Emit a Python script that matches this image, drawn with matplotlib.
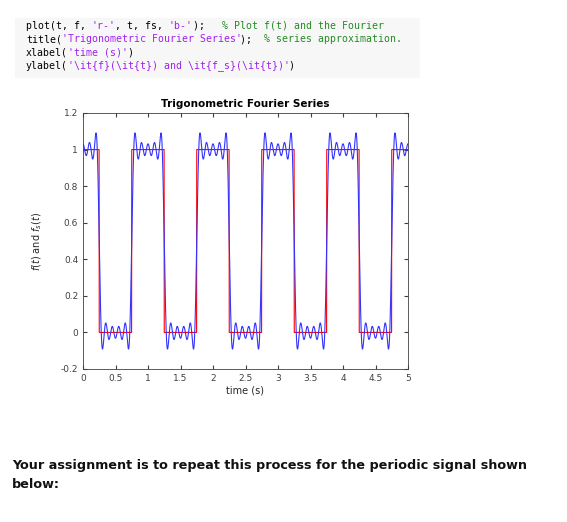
import numpy as np
import matplotlib.pyplot as plt
from matplotlib.patches import Rectangle

# square wave: high between these edges (period 1 s)
t_edges = [0, 0.25, 0.75, 1.25, 1.75, 2.25, 2.75, 3.25, 3.75, 4.25, 4.75, 5]
f_levels = [1, 0, 1, 0, 1, 0, 1, 0, 1, 0, 1]

# Fourier series coefficients: dc term and cosine harmonics (odd n)
a0 = 0.5
harmonics = [1, 3, 5, 7, 9]
an = [0.6366, -0.2122, 0.1273, -0.0909, 0.0707]

fig = plt.figure(figsize=(5.67, 5.22), dpi=100)
W, H = 567, 522

# code block
fig.patches.append(Rectangle((15 / W, 1 - 78 / H), 405 / W, 60 / H, transform=fig.transFigure,
                             facecolor='#f7f7f7', edgecolor='none'))
mono = 'DejaVu Sans Mono'
lines = [
    [("plot(t, f, ", 'k'), ("'r-'", '#a020f0'), (", t, fs, ", 'k'), ("'b-'", '#a020f0'), (");   ", 'k'),
     ("% Plot f(t) and the Fourier", '#228b22')],
    [("title(", 'k'), ("'Trigonometric Fourier Series'", '#a020f0'), (");  ", 'k'),
     ("% series approximation.", '#228b22')],
    [("xlabel(", 'k'), ("'time (s)'", '#a020f0'), (")", 'k')],
    [("ylabel(", 'k'), ("'\\it{f}(\\it{t}) and \\it{f_s}(\\it{t})'", '#a020f0'), (")", 'k')],
]
cw = 5.95  # px per char
for i, parts in enumerate(lines):
    x = 26
    y = 26 + i * 13.3
    for s, c in parts:
        fig.text(x / W, 1 - y / H, s, fontsize=7.15, family=mono, color=c, va='center')
        x += len(s) * cw

ax = fig.add_axes([83 / W, 1 - 369 / H, 325 / W, 256 / H])
t = np.linspace(0, 5, 2001)
f = np.array(f_levels)[np.clip(np.searchsorted(t_edges, t, side='right') - 1, 0, len(f_levels) - 1)]
fs = a0 + sum(a * np.cos(2 * np.pi * n * t) for n, a in zip(harmonics, an))
ax.plot(t, f, 'r-', lw=0.8)
ax.plot(t, fs, '-', color='#3333ff', lw=0.8)
ax.set_xlim(0, 5)
ax.set_ylim(-0.2, 1.2)
ax.set_xticks(np.arange(0, 5.01, 0.5))
ax.set_xticklabels(['0', '0.5', '1', '1.5', '2', '2.5', '3', '3.5', '4', '4.5', '5'])
ax.set_yticks(np.arange(-0.2, 1.21, 0.2))
ax.set_yticklabels(['-0.2', '0', '0.2', '0.4', '0.6', '0.8', '1', '1.2'])
ax.tick_params(labelsize=6.5, direction='in', colors='#404040', length=3, top=True, right=True,
               labeltop=False, labelright=False)
for s in ax.spines.values():
    s.set_color('#404040')
    s.set_linewidth(0.6)
ax.set_title('Trigonometric Fourier Series', fontsize=7.5, fontweight='bold', pad=4)
ax.set_xlabel('time (s)', fontsize=7, labelpad=2, color='#262626')
ax.set_ylabel(r'$f$($t$) and $f_s$($t$)', fontsize=7, color='#262626', labelpad=12)

fig.text(12 / W, 1 - 466 / H, 'Your assignment is to repeat this process for the periodic signal shown',
         fontsize=9.2, fontweight='bold', va='center', color='#111111')
fig.text(12 / W, 1 - 484 / H, 'below:', fontsize=9.2, fontweight='bold', va='center', color='#111111')

fig.savefig('out.png', dpi=100)
